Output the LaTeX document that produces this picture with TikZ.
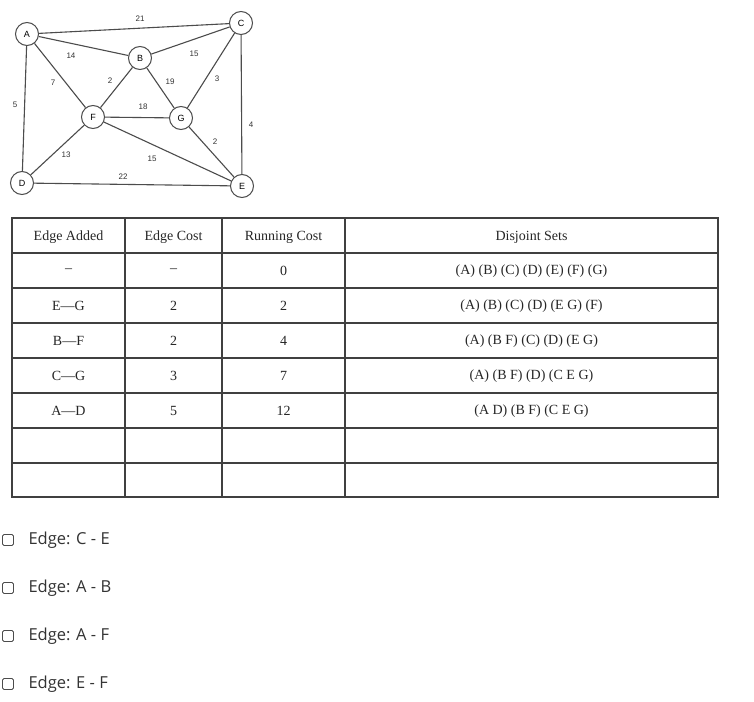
\documentclass[tikz,border=0pt]{standalone}
\usepackage{fontspec}
\setmainfont{Liberation Serif}
\newfontfamily\uisans{Open Sans}
\newfontfamily\gsans{Liberation Sans}
\begin{document}
\begin{tikzpicture}[x=1pt,y=-1pt,
  vtx/.style={circle,draw=black!70,line width=1pt,minimum size=23pt,inner sep=0pt,fill=white,font=\gsans\fontsize{9}{9}\selectfont},
  wl/.style={font=\gsans\fontsize{8}{8}\selectfont,text=black!80},
  edge/.style={draw=black!70,line width=1.1pt},
  cell/.style={font=\fontsize{14}{15}\selectfont,text=black!85},
  opt/.style={font=\uisans\fontsize{16.5}{17}\selectfont,anchor=west,text=black!80},
  cbox/.style={draw=black!70,line width=0.8pt,rounded corners=1.5pt,minimum size=11pt,inner sep=0pt}]
\useasboundingbox (0,0) rectangle (754,701);
\fill[white] (0,0) rectangle (754,701);
\node[vtx] (A) at (27,34) {A};
\node[vtx] (C) at (241,23) {C};
\node[vtx] (B) at (140,58) {B};
\node[vtx] (F) at (93,117) {F};
\node[vtx] (G) at (181,118) {G};
\node[vtx] (D) at (22,183) {D};
\node[vtx] (E) at (242,186) {E};
\foreach \a/\b in {A/C,A/B,B/C,A/F,B/F,B/G,C/G,A/D,F/G,C/E,G/E,F/D,F/E,D/E}
  \draw[edge] (\a) -- (\b);
\node[wl] (w1) at (140,19) {21};
\node[wl] (w2) at (71,56) {14};
\node[wl] (w3) at (194,54) {15};
\node[wl] (w4) at (53,83) {7};
\node[wl] (w5) at (110,81) {2};
\node[wl] (w6) at (170,82) {19};
\node[wl] (w7) at (217,79) {3};
\node[wl] (w8) at (15,105) {5};
\node[wl] (w9) at (143,107) {18};
\node[wl] (w10) at (251,125) {4};
\node[wl] (w11) at (215,142) {2};
\node[wl] (w12) at (66,155) {13};
\node[wl] (w13) at (152,159) {15};
\node[wl] (w14) at (123,177) {22};
% table
\draw[black!75,line width=1.2pt] (12,218) rectangle (718,497);
\foreach \y in {253,288,323,358,393,428,463} \draw[black!75,line width=1.2pt] (12,\y) -- (718,\y);
\foreach \x in {125,222,345} \draw[black!75,line width=1.2pt] (\x,218) -- (\x,497);
\node[cell] (h1) at (68.5,237) {Edge Added};
\node[cell] (h2) at (173.5,237) {Edge Cost};
\node[cell] (h3) at (283.5,237) {Running Cost};
\node[cell] (h4) at (531.5,237) {Disjoint Sets};
\foreach \r/\a/\b/\c/\d in {0/--/--/0/{(A) (B) (C) (D) (E) (F) (G)},1/E---G/2/2/{(A) (B) (C) (D) (E G) (F)},2/B---F/2/4/{(A) (B F) (C) (D) (E G)},3/C---G/3/7/{(A) (B F) (D) (C E G)},4/A---D/5/12/{(A D) (B F) (C E G)}}{
  \node[cell] (r\r a) at (68.5,{271+35*\r}) {\a};
  \node[cell] (r\r b) at (173.5,{271+35*\r}) {\b};
  \node[cell] (r\r c) at (283.5,{271+35*\r}) {\c};
  \node[cell] (r\r d) at (531.5,{271+35*\r}) {\d};
}
\foreach \i/\t in {0/C - E,1/A - B,2/A - F,3/E - F}{
  \node[cbox] (cb\i) at (8,{540+48*\i}) {};
  \node[opt] (o\i) at (25,{540+48*\i}) {Edge: \t};
}
\end{tikzpicture}
\end{document}
